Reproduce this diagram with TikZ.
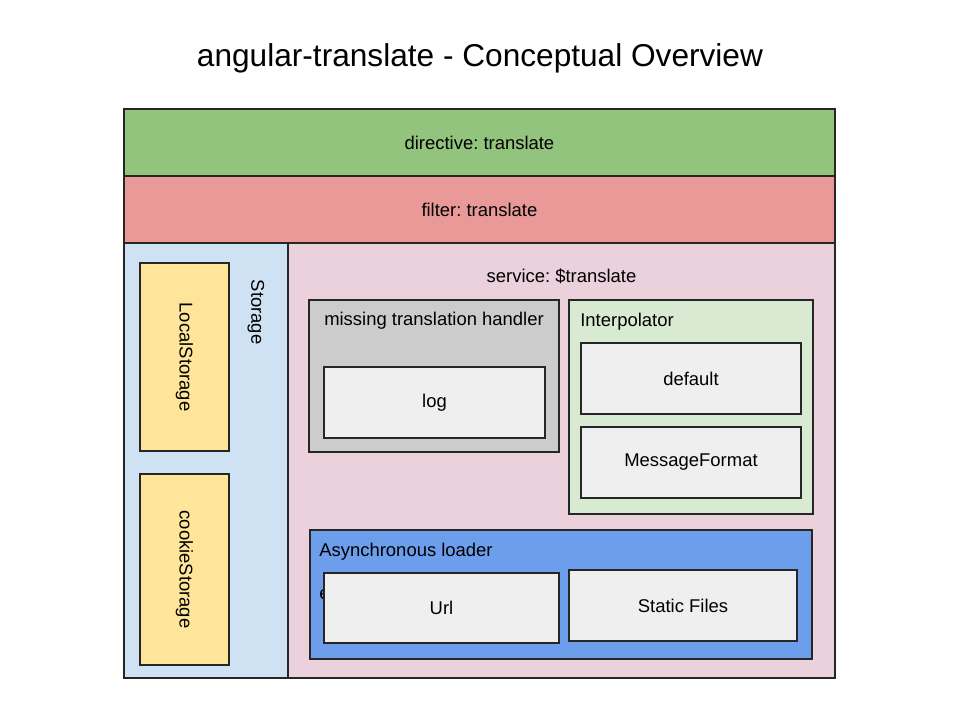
\documentclass[tikz,border=0pt]{standalone}
\usepackage{fontspec}
\setmainfont{Liberation Sans}
\usepackage{xcolor}
\usepackage{tikz}
\usetikzlibrary{positioning}
\frenchspacing

\definecolor{dirgreen}{HTML}{93C47D}
\definecolor{filterred}{HTML}{EA9999}
\definecolor{storeblue}{HTML}{CFE2F3}
\definecolor{servpink}{HTML}{EAD1DC}
\definecolor{storeyellow}{HTML}{FFE599}
\definecolor{handlergrey}{HTML}{CCCCCC}
\definecolor{interpgreen}{HTML}{D9EAD3}
\definecolor{loaderblue}{HTML}{6D9EEB}
\definecolor{boxgrey}{HTML}{EFEFEF}

\begin{document}
\begin{tikzpicture}[
    x=0.02cm, y=-0.02cm,
    font=\fontsize{10.5}{12}\selectfont,
    panel/.style={rectangle, draw=black!85, line width=0.9pt, outer sep=0pt, inner sep=0pt, align=center},
    group/.style={rectangle, draw=black!85, line width=1.1pt, outer sep=0pt, inner sep=0pt, anchor=north west},
    item/.style={rectangle, draw=black!85, fill=boxgrey, line width=1.1pt, outer sep=0pt, inner sep=0pt, align=center},
    store/.style={rectangle, draw=black!85, fill=storeyellow, line width=0.9pt, outer sep=0pt, inner sep=0pt, rotate=-90, minimum height=1.78cm},
    txt/.style={inner sep=0pt}
]

% Canvas
\fill[white] (0,0) rectangle (960,720);

% Title
\node[txt, font=\fontsize{18}{22}\selectfont] (title) at (480,58) {angular-translate - Conceptual Overview};

% Layers
\node[panel, fill=dirgreen, minimum width=14.22cm, minimum height=1.34cm, anchor=north west] (directive) at (124,109) {directive: translate};
\node[panel, fill=filterred, minimum width=14.22cm, minimum height=1.34cm, below=0pt of directive] (filter) {filter: translate};
\node[panel, fill=storeblue, minimum width=3.28cm, minimum height=8.7cm, anchor=north west] (storage) at (filter.south west) {};
\node[panel, fill=servpink, minimum width=10.94cm, minimum height=8.7cm, anchor=north west] (service) at (storage.north east) {};

% Storage
\node[store, minimum width=3.76cm] (local) at (184.5,357) {LocalStorage};
\node[store, minimum width=3.82cm] (cookie) at (184.5,569.5) {cookieStorage};
\node[txt, rotate=-90] (storagelabel) at (256,312) {Storage};

% Service
\node[txt] (servicelabel) at (561.5,276) {service: \$translate};

% Missing translation handler
\node[group, fill=handlergrey, minimum width=5cm, minimum height=3.04cm] (handler) at (309,300) {};
\node[txt] (handlerlabel) at (434,321) {missing translation handler};
\node[item, minimum width=4.42cm, minimum height=1.42cm] (log) at (434.5,402.5) {log};

% Interpolator
\node[group, fill=interpgreen, minimum width=4.88cm, minimum height=4.28cm] (interp) at (569,300) {};
\node[txt, anchor=west] (interplabel) at (580,321.5) {Interpolator};
\node[item, minimum width=4.4cm, minimum height=1.42cm] (default) at (691,378.5) {default};
\node[item, minimum width=4.4cm, minimum height=1.42cm] (msgformat) at (691,462.5) {MessageFormat};

% Asynchronous loader
\node[group, fill=loaderblue, minimum width=10.04cm, minimum height=2.58cm] (loader) at (310,530) {};
\node[txt, anchor=west] (loaderlabel) at (319,551.5) {Asynchronous loader};
\node[txt, anchor=west] (hidden) at (319,595) {e};
\node[item, minimum width=4.7cm, minimum height=1.4cm] (url) at (441.5,608) {Url};
\node[item, minimum width=4.56cm, minimum height=1.42cm] (static) at (683,605.5) {Static Files};

\end{tikzpicture}
\end{document}
